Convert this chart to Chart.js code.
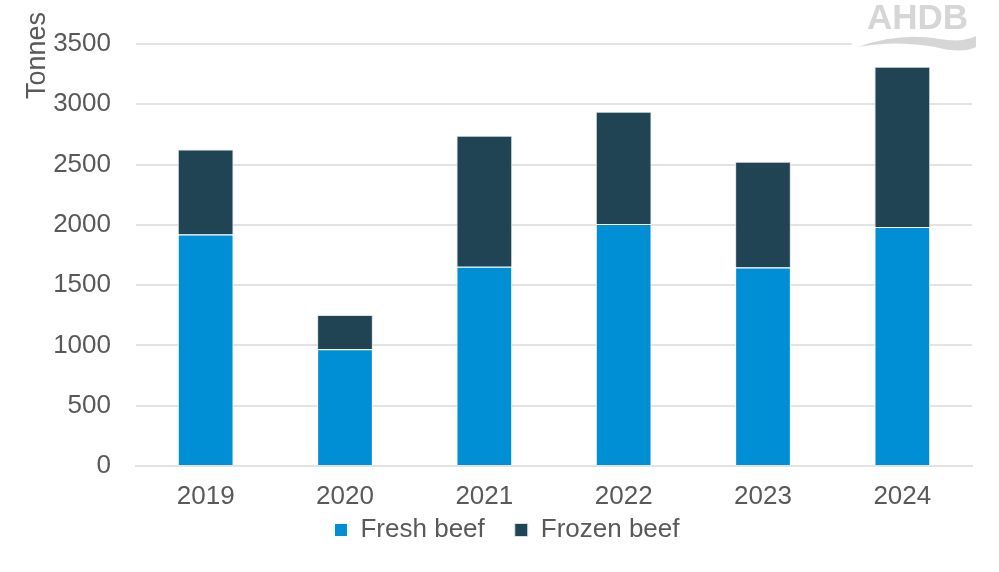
<!DOCTYPE html>
<html>
<head>
<meta charset="utf-8">
<script src="https://cdn.jsdelivr.net/npm/chart.js@4"></script>
<style>
  html, body { margin: 0; padding: 0; background: #fff; }
  #wrap { width: 999px; height: 572px; position: relative; }
</style>
</head>
<body>
<div id="wrap"><canvas id="chart"></canvas></div>
<script>
// Data
const years = ['2019', '2020', '2021', '2022', '2023', '2024'];
const freshBeef = [1921, 968, 1653, 2007, 1647, 1982];
const frozenBeef = [705, 284, 1086, 931, 876, 1329];
const yTicks = [0, 500, 1000, 1500, 2000, 2500, 3000, 3500];

const textColor = '#595959';
const gridColor = '#e3e3e3';
const font = 'Liberation Sans, Arial, sans-serif';

// legend padding sets the gap between items, so shrink its box
// and nudge it to sit just under the year labels
const legendHeight = 64;
const legendLift = 21;
const legendShift = 21;
const fixLegend = {
    id: 'fixLegend',
    beforeLayout(chart) {
        const lg = chart.legend;
        if (lg && !lg._fixed) {
            const fit = lg.fit.bind(lg);
            const draw = lg.draw.bind(lg);
            lg.fit = function () {
                fit();
                this.height = legendHeight;
            };
            lg.draw = function () {
                this.ctx.save();
                this.ctx.translate(legendShift, -legendLift);
                draw();
                this.ctx.restore();
            };
            lg._fixed = true;
        }
    }
};

// Axis title and logo drawn by hand
const extras = {
    id: 'extras',
    afterDraw(chart) {
        const ctx = chart.ctx;
        ctx.save();
        // y axis title, top aligned
        ctx.translate(38, 99);
        ctx.rotate(-Math.PI / 2);
        ctx.fillStyle = textColor;
        ctx.font = '27px ' + font;
        ctx.textAlign = 'left';
        ctx.textBaseline = 'middle';
        ctx.fillText('Tonnes', 0, 0);
        ctx.restore();

        // AHDB logo
        ctx.save();
        ctx.fillStyle = '#fff';
        ctx.fillRect(852, 36, 147, 18);
        ctx.fillStyle = '#d6d6d6';
        ctx.font = 'bold 35px ' + font;
        ctx.textAlign = 'right';
        ctx.textBaseline = 'alphabetic';
        ctx.fillText('AHDB', 968, 29);
        ctx.beginPath();
        ctx.moveTo(858, 47);
        ctx.quadraticCurveTo(900, 32, 940, 39);
        ctx.quadraticCurveTo(962, 43, 976, 36);
        ctx.lineTo(976, 47);
        ctx.quadraticCurveTo(962, 54, 935, 47);
        ctx.quadraticCurveTo(895, 40, 858, 47);
        ctx.closePath();
        ctx.fill();
        ctx.restore();
    }
};

new Chart(document.getElementById('chart'), {
    type: 'bar',
    data: {
        labels: years,
        datasets: [
            {
                label: 'Fresh beef',
                data: freshBeef,
                backgroundColor: '#008fd5',
                borderColor: '#ffffff',
                borderWidth: 1,
                barPercentage: 0.8,
                categoryPercentage: 0.5
            },
            {
                label: 'Frozen beef',
                data: frozenBeef,
                backgroundColor: '#214455',
                borderColor: '#d9e2e8',
                borderWidth: 1,
                barPercentage: 0.8,
                categoryPercentage: 0.5
            }
        ]
    },
    options: {
        responsive: true,
        maintainAspectRatio: false,
        animation: false,
        layout: {
            padding: { top: 44, right: 27, bottom: 0, left: 0 }
        },
        plugins: {
            legend: {
                position: 'bottom',
                labels: {
                    color: textColor,
                    font: { family: font, size: 26 },
                    boxWidth: 13,
                    boxHeight: 13,
                    padding: 30
                }
            },
            tooltip: { enabled: false }
        },
        scales: {
            x: {
                stacked: true,
                afterFit(scale) { scale.height = 42; },
                grid: { display: false, drawTicks: false },
                border: { color: gridColor, width: 2 },
                ticks: {
                    color: textColor,
                    font: { family: font, size: 26 },
                    padding: 15
                }
            },
            y: {
                stacked: true,
                min: 0,
                max: yTicks[yTicks.length - 1],
                afterFit(scale) { scale.width = 136; },
                afterBuildTicks(scale) {
                    scale.ticks = yTicks.map(v => ({ value: v }));
                },
                grid: { color: gridColor, lineWidth: 2, drawTicks: false },
                border: { display: false },
                ticks: {
                    color: textColor,
                    font: { family: font, size: 26 },
                    padding: 25,
                    callback: v => String(v)
                }
            }
        }
    },
    plugins: [fixLegend, extras]
});
</script>
</body>
</html>
